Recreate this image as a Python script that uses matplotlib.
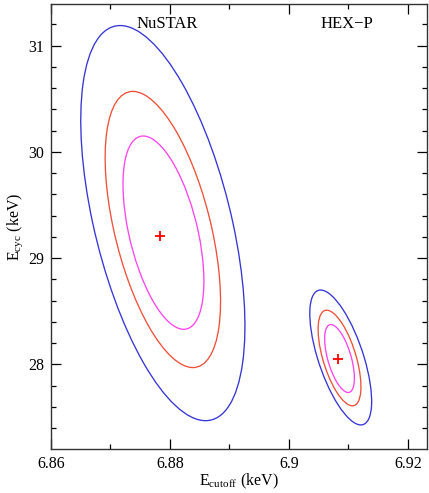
import numpy as np
import matplotlib
matplotlib.use("Agg")
import matplotlib.pyplot as plt
from matplotlib.patches import Ellipse
from matplotlib.ticker import MultipleLocator

plt.rcParams['font.family'] = ['Liberation Serif', 'DejaVu Serif']
plt.rcParams['mathtext.fontset'] = 'custom'
plt.rcParams['mathtext.rm'] = 'Liberation Serif'
plt.rcParams['mathtext.it'] = 'Liberation Serif:italic'

# Best-fit points
instruments = ["NuSTAR", "HEX\u2212P"]
best_ecut = [6.8784, 6.9083]
best_ecyc = [29.205, 28.051]

# Confidence contours (68%, 90%, 99%) per instrument:
# centre, half-extent in Ecut, half-extent in Ecyc, correlation
level_colors = ["#ff44ee", "#f05038", "#3535d8"]
nustar_cx = [6.8789, 6.8788, 6.8788]
nustar_cy = [29.24, 29.27, 29.33]
nustar_hx = [0.0068, 0.0097, 0.0138]
nustar_hy = [0.91, 1.30, 1.86]
nustar_rho = [-0.50, -0.52, -0.52]

hexp_cx = [6.9085, 6.9085, 6.9087]
hexp_cy = [28.055, 28.06, 28.065]
hexp_hx = [0.0025, 0.0036, 0.0052]
hexp_hy = [0.32, 0.45, 0.635]
hexp_rho = [-0.58, -0.60, -0.65]

label_x = [6.8795, 6.9097]
label_y = [31.20, 31.20]

fig = plt.figure(figsize=(4.29, 4.93), dpi=100)
ax = fig.add_axes([0.1189, 0.0892, 0.8764, 0.9027])


def add_contour(cx, cy, hx, hy, rho, color):
    cov = np.array([[hx * hx, rho * hx * hy], [rho * hx * hy, hy * hy]])
    vals, vecs = np.linalg.eigh(cov)
    v = vecs[:, 1]
    ang = np.degrees(np.arctan2(v[1], v[0]))
    e = Ellipse((cx, cy), 2 * np.sqrt(vals[1]), 2 * np.sqrt(vals[0]), angle=ang,
                fill=False, edgecolor=color, linewidth=0.95)
    ax.add_patch(e)


for i in range(3):
    add_contour(nustar_cx[i], nustar_cy[i], nustar_hx[i], nustar_hy[i], nustar_rho[i], level_colors[i])
    add_contour(hexp_cx[i], hexp_cy[i], hexp_hx[i], hexp_hy[i], hexp_rho[i], level_colors[i])

ax.plot(best_ecut, best_ecyc, linestyle='none', marker='+', color='red',
        markersize=7, markeredgewidth=1.3)

for name, x, y in zip(instruments, label_x, label_y):
    ax.text(x, y, name, ha='center', va='center', fontsize=12)

ax.set_xlim(6.86, 6.9232)
ax.set_ylim(27.203, 31.393)
ax.xaxis.set_major_locator(MultipleLocator(0.02))
ax.xaxis.set_minor_locator(MultipleLocator(0.01))
ax.yaxis.set_major_locator(MultipleLocator(1))
ax.yaxis.set_minor_locator(MultipleLocator(0.2))
ax.set_xticks([6.86, 6.88, 6.90, 6.92])
ax.set_xticklabels(["6.86", "6.88", "6.9", "6.92"])
ax.set_yticks([28, 29, 30, 31])
ax.set_yticklabels(["28", "29", "30", "31"])
ax.tick_params(which='both', direction='in', top=True, right=True, labelsize=11.5, pad=5)
ax.tick_params(which='major', length=7, width=0.9)
ax.tick_params(which='minor', length=3.5, width=0.9)
for s in ax.spines.values():
    s.set_linewidth(1.0)
    s.set_color('#333333')

ax.set_xlabel(r'E$_{\rm cutoff}$ (keV)', fontsize=11.5, labelpad=0)
ax.set_ylabel(r'E$_{\rm cyc}$ (keV)', fontsize=11.5, labelpad=2)

fig.savefig("out.png", dpi=100)
